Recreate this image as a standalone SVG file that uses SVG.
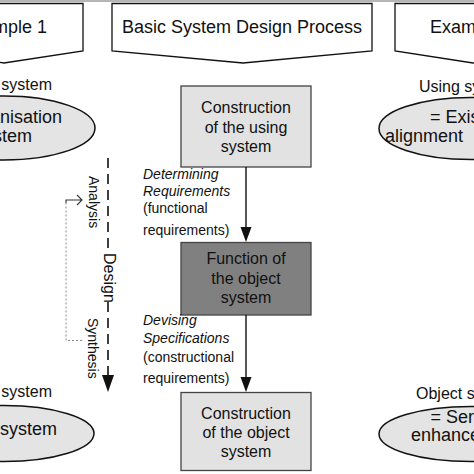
<svg xmlns="http://www.w3.org/2000/svg" width="474" height="474" viewBox="0 0 474 474">
<defs>
<style>
text{font-family:"Liberation Sans",Arial,sans-serif;fill:#111}
.hdr{fill:#fff;stroke:#111;stroke-width:1.3}
.box{stroke:#444;stroke-width:1.3}
.lt{fill:#e2e2e2}
.dk{fill:#808080}
.ell{fill:#e4e4e4;stroke:#111;stroke-width:1.5}
.t18{font-size:18px}
.t16{font-size:16px}
.t14{font-size:14px}
.it{font-style:italic}
.conn{stroke:#111;stroke-width:1.4;fill:none}
.dash{stroke:#111;stroke-width:1.6;stroke-dasharray:10 6;fill:none}
.fb{stroke:#888;stroke-width:1;stroke-dasharray:2 2;fill:none}
.head{fill:#111}
</style>
</defs>
<rect x="0" y="0" width="474" height="2" fill="#b5b5b5"/>

<g id="hdr-left">
<polygon class="hdr" points="-75,3.5 83,3.5 83,51 4,63 -75,51"/>
<text class="t18" x="47" y="33" text-anchor="end">Example 1</text>
</g>
<g id="hdr-center">
<polygon class="hdr" points="112,3.5 372,3.5 372,51 243,63 112,51"/>
<text class="t18" x="242" y="33" text-anchor="middle">Basic System Design Process</text>
</g>
<g id="hdr-right">
<polygon class="hdr" points="395,3.5 551,3.5 551,51 473,63 395,51"/>
<text class="t18" x="430" y="33">Example 2</text>
</g>

<g id="left-using">
<text class="t16" x="52" y="90" text-anchor="end">Using system</text>
<ellipse class="ell" cx="4" cy="128" rx="91" ry="32"/>
<text class="t18" x="62" y="123" text-anchor="end">= Organisation</text>
<text class="t18" x="32" y="141.5" text-anchor="end">system</text>
</g>
<g id="left-object">
<text class="t16" x="52" y="396.5" text-anchor="end">Object system</text>
<ellipse class="ell" cx="4" cy="433.5" rx="90" ry="28"/>
<text class="t18" x="57" y="435" text-anchor="end">= IT-system</text>
</g>
<g id="right-using">
<text class="t16" x="419" y="91.5">Using system</text>
<ellipse class="ell" cx="471" cy="128.5" rx="92" ry="31"/>
<text class="t18" x="430" y="123">= Existing</text>
<text class="t18" x="385" y="141.5">alignment</text>
</g>
<g id="right-object">
<text class="t16" x="416" y="399">Object system</text>
<ellipse class="ell" cx="471" cy="434" rx="92" ry="27.5"/>
<text class="t18" x="430.5" y="422.5">= Service</text>
<text class="t18" x="411" y="441">enhancement</text>
</g>

<g id="box-using">
<rect class="box lt" x="181" y="86" width="130" height="81"/>
<text class="t16" x="246" y="113" text-anchor="middle">Construction</text>
<text class="t16" x="246" y="132.5" text-anchor="middle">of the using</text>
<text class="t16" x="246" y="152" text-anchor="middle">system</text>
</g>
<g id="box-function">
<rect class="box dk" x="181" y="242.5" width="130" height="72.5"/>
<text class="t16" x="246" y="264" text-anchor="middle">Function of</text>
<text class="t16" x="246" y="283.5" text-anchor="middle">the object</text>
<text class="t16" x="246" y="303" text-anchor="middle">system</text>
</g>
<g id="box-object">
<rect class="box lt" x="181" y="392.5" width="130" height="78"/>
<text class="t16" x="246" y="418.5" text-anchor="middle">Construction</text>
<text class="t16" x="246" y="438" text-anchor="middle">of the object</text>
<text class="t16" x="246" y="457" text-anchor="middle">system</text>
</g>

<g id="connectors">
<line class="conn" x1="246" y1="167" x2="246" y2="228"/>
<path class="head" d="M240.5,227 L251.5,227 L246,242 Z"/>
<line class="conn" x1="246" y1="315" x2="246" y2="378"/>
<path class="head" d="M240.5,377 L251.5,377 L246,392 Z"/>
<line class="dash" x1="108" y1="158" x2="108" y2="249"/>
<line class="dash" x1="108" y1="302" x2="108" y2="376"/>
<path class="head" d="M102,375 L114,375 L108,392 Z"/>
<path class="fb" d="M82,340.5 H66 V203"/>
<path d="M66,203 V200 H82 M77,195 L82,200 L77,205" stroke="#333" stroke-width="1.1" fill="none"/>
</g>

<g id="labels">
<text class="t14 it" x="143" y="179">Determining</text>
<text class="t14 it" x="143" y="196">Requirements</text>
<text class="t14" x="143" y="213">(functional</text>
<text class="t14" x="143" y="235">requirements)</text>
<text class="t14 it" x="143" y="325">Devising</text>
<text class="t14 it" x="143" y="343">Specifications</text>
<text class="t14" x="143" y="361.5">(constructional</text>
<text class="t14" x="143" y="382.5">requirements)</text>
<text class="t14" transform="translate(89,176) rotate(90)">Analysis</text>
<text class="t16" transform="translate(103.5,253) rotate(90)">Design</text>
<text class="t14" transform="translate(88,318) rotate(90)">Synthesis</text>
</g>
</svg>
